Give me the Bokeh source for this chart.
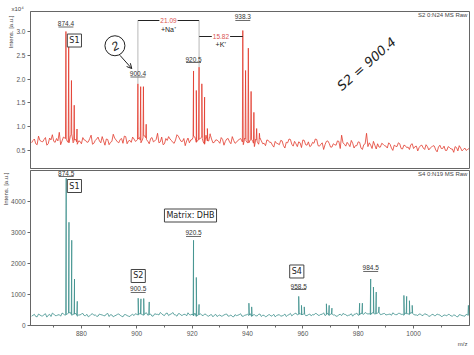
import numpy as np
from bokeh.plotting import figure
from bokeh.layouts import column
from bokeh.models import Label, Range1d, FixedTicker, PrintfTickFormatter, Arrow, OpenHead, Title
from bokeh.embed import file_html
from bokeh.resources import INLINE

# ---------------- data ----------------
mz_start = 862  # noise sampled every 0.5 m/z from here (integer list + half-step list)

# top spectrum baseline noise (x1e-2 of 10^4 a.u.), at 862, 863, ...
top_noise = [66, 74, 62, 71, 68, 77, 64, 72, 69, 75,
             88, 70, 76, 68, 80, 66, 73, 70, 64, 72,
             67, 75, 63, 71, 78, 66, 70, 74, 62, 69,
             76, 68, 73, 65, 79, 70, 67, 74, 71, 77,
             72, 80, 69, 75, 68, 73, 66, 78, 64, 71,
             74, 67, 72, 80, 69, 75, 70, 66, 73, 78,
             71, 76, 68, 82, 70, 74, 67, 72, 65, 73,
             69, 75, 64, 71, 67, 73, 70, 76, 66, 72,
             68, 74, 63, 70, 65, 72, 67, 61, 69, 64,
             71, 60, 67, 74, 63, 69, 58, 66, 72, 62,
             68, 60, 65, 73, 59, 66, 62, 70, 57, 64,
             61, 69, 82, 63, 67, 58, 65, 60, 68, 55,
             62, 86, 66, 54, 61, 64, 57, 63, 59, 66,
             55, 61, 58, 64, 53, 60, 57, 62, 54, 59,
             56, 61, 52, 58, 55, 60, 51, 57, 54, 59,
             50, 56, 53, 58, 49, 55, 52, 50, 54]
# top noise at 862.5, 863.5, ...
top_noise_mid = [71, 64, 80, 69, 73, 61, 76, 83, 67, 70,
                 62, 78, 74, 66, 85, 72, 63, 69, 77, 71,
                 68, 82, 65, 74, 70, 79, 61, 73, 67, 84,
                 72, 66, 75, 80, 64, 71, 78, 69, 74,
                 66, 81, 73, 64, 77, 70, 86, 68, 62, 75,
                 79, 71, 65, 83, 74, 69, 60, 76, 72, 80,
                 67, 73, 78, 63, 70, 84, 66, 72, 69, 77,
                 61, 74, 68, 79, 65, 71, 75, 62, 70, 66,
                 73, 58, 69, 76, 64, 60, 71, 67, 57, 65,
                 62, 70, 55, 66, 73, 59, 64, 68, 56, 71,
                 61, 58, 67, 74, 60, 63, 52, 69, 65, 57,
                 62, 70, 54, 66, 59, 63, 71, 55, 60, 67,
                 52, 64, 58, 61, 69, 53, 57, 65, 60, 55,
                 63, 50, 59, 66, 54, 61, 56, 52, 64, 58,
                 49, 60, 55, 62, 51, 57, 59, 47, 61, 54,
                 50, 58, 53, 46, 56, 60, 49, 55, 52]

# bottom spectrum baseline noise (a.u.), at 862, 863, ...
bot_noise = [300, 360, 280, 340, 310, 380, 330, 290, 370, 320,
             350, 400, 330, 380, 420, 360, 390, 340, 370, 320,
             360, 310, 380, 340, 300, 350, 320, 370, 290, 340,
             310, 360, 330, 280, 350, 300, 340, 320, 360, 380,
             350, 390, 330, 370, 310, 360, 340, 380, 320, 400,
             360, 420, 340, 380, 330, 360, 310, 350, 370, 400,
             340, 380, 320, 360, 300, 350, 330, 290, 340, 310,
             360, 300, 340, 280, 320, 350, 300, 330, 360, 380,
             340, 310, 360, 290, 330, 300, 350, 320, 280, 340,
             300, 330, 290, 350, 310, 380, 340, 390, 360, 320,
             350, 310, 340, 380, 330, 360, 320, 390, 370, 340,
             300, 350, 320, 360, 310, 340, 300, 370, 330, 400,
             360, 390, 380, 410, 370, 400, 350, 380, 340, 360,
             330, 370, 350, 390, 360, 400, 380, 420, 360, 340,
             370, 320, 380, 340, 300, 360, 320, 350, 290, 340,
             310, 350, 300, 330, 280, 340, 310, 360, 320]
# bottom noise at 862.5, 863.5, ...
bot_noise_mid = [330, 290, 370, 310, 350, 270, 360, 400, 320, 340,
                 300, 380, 350, 410, 330, 370, 300, 340, 390, 320,
                 280, 360, 330, 300, 370, 340, 310, 390, 350, 280,
                 330, 370, 300, 350, 320, 290, 360, 380, 340,
                 370, 330, 410, 350, 300, 380, 360, 420, 340, 390,
                 320, 370, 350, 300, 380, 330, 360, 410, 340, 310,
                 290, 350, 330, 370, 310, 340, 280, 360, 320, 300,
                 340, 370, 310, 290, 350, 330, 380, 300, 340, 320,
                 290, 350, 310, 370, 330, 280, 340, 300, 360, 320,
                 350, 310, 370, 330, 390, 350, 400, 360, 340, 380,
                 320, 370, 350, 390, 330, 360, 410, 350, 320, 370,
                 340, 300, 360, 390, 350, 330, 380, 360, 400, 340,
                 380, 420, 370, 350, 400, 380, 430, 360, 390, 350,
                 370, 410, 350, 390, 360, 330, 380, 350, 400, 340,
                 320, 370, 330, 360, 300, 350, 320, 370, 340, 300,
                 330, 360, 310, 340, 290, 350, 320, 300, 340]

# top spectrum peaks (m/z, intensity x10^4)
top_peak_mz = [874.4, 875.4, 876.4, 877.4, 878.4,
               900.4, 901.4, 902.4, 903.4,
               920.5, 921.5, 922.5, 923.5, 924.5, 925.5, 926.5,
               938.3, 939.3, 940.3, 941.3, 942.3, 943.3, 944.3]
top_peak_int = [3.00, 2.70, 1.97, 1.45, 0.95,
                1.90, 1.84, 1.84, 1.05,
                2.17, 1.76, 2.25, 1.90, 1.62, 0.96, 0.85,
                3.02, 2.18, 2.65, 1.74, 1.30, 0.96, 0.86]

# bottom spectrum peaks (m/z, intensity a.u.)
bot_peak_mz = [874.5, 875.5, 876.5, 877.5, 878.5,
               900.5, 901.5, 902.5, 904.5,
               920.5, 921.5, 922.5,
               940.5, 941.5,
               958.5, 959.5, 960.5,
               968.5, 969.5, 970.5,
               980.5, 981.5,
               984.5, 985.5, 986.5, 987.5,
               996.5, 997.5, 998.5, 999.5,
               1019.8]
bot_peak_int = [4750, 3330, 2750, 1500, 780,
                880, 860, 870, 760,
                2750, 1550, 680,
                720, 600,
                940, 650, 600,
                700, 650, 560,
                720, 720,
                1500, 1240, 1080, 600,
                970, 940, 800, 650,
                650]

top_labels = ["874.4", "900.4", "920.5", "938.3"]
top_label_mz = [874.4, 900.4, 920.5, 938.3]
top_label_y = [3.094, 2.043, 2.348, 3.231]

bot_labels = ["874.5", "900.5", "920.5", "958.5", "984.5"]
bot_label_mz = [874.5, 900.5, 920.5, 958.5, 984.5]
bot_label_y = [4806, 1065, 2871, 1161, 1742]

x_ticks = [880, 900, 920, 940, 960, 980, 1000]
x_minor = [870, 890, 910, 930, 950, 970, 990, 1010]
top_y_ticks = [0.5, 1.0, 1.5, 2.0, 2.5, 3.0]
bot_y_ticks = [0, 1000, 2000, 3000, 4000]

X0, X1 = 861.6, 1020.2
FONT = "Liberation Sans"


def build(noise, noise_mid, pk_mz, pk_int, scale=1.0):
    bx = np.concatenate([np.arange(len(noise)) + mz_start, np.arange(len(noise_mid)) + mz_start + 0.5])
    by = np.concatenate([np.array(noise, float), np.array(noise_mid, float)]) * scale
    o = np.argsort(bx)
    bx, by = bx[o], by[o]
    xs = list(bx)
    ys = list(by)
    for m, v in zip(pk_mz, pk_int):
        for dx in (-0.16, 0.16):
            xs.append(m + dx)
            ys.append(float(np.interp(m + dx, bx, by)))
        xs.append(m)
        ys.append(v)
    order = np.argsort(xs)
    return np.array(xs)[order], np.array(ys)[order]


def style(p):
    p.toolbar_location = None
    p.xgrid.visible = False
    p.ygrid.visible = False
    p.outline_line_color = "#666666"
    p.outline_line_width = 1
    p.background_fill_color = "white"
    p.border_fill_color = "white"
    for ax in p.yaxis + p.xaxis:
        ax.axis_line_color = "#666666"
        ax.major_tick_line_color = "#666666"
        ax.minor_tick_line_color = "#666666"
        ax.major_tick_out = 3
        ax.major_tick_in = 0
        ax.minor_tick_out = 2
        ax.minor_tick_in = 0
        ax.major_label_text_font = FONT
        ax.major_label_text_font_size = "6.5px"
        ax.major_label_text_color = "#555555"
        ax.major_label_standoff = 2


def small(p, x, y, text, align="center", baseline="middle", color="#333333", size="6.5px", angle=0.0,
          style_="normal", font=FONT, **kw):
    p.add_layout(Label(x=x, y=y, text=text, text_align=align, text_baseline=baseline,
                       text_color=color, text_font_size=size, angle=angle,
                       text_font=font, text_font_style=style_, **kw))


def peak_labels(p, mzs, ys, texts):
    for m, yv, t in zip(mzs, ys, texts):
        p.segment(x0=[m - 2.7], y0=[yv], x1=[m + 2.7], y1=[yv], line_color="#444444", line_width=0.8)
        small(p, m, yv, t, baseline="bottom", y_offset=1)


def boxed(p, x, y, text, size="8px"):
    p.add_layout(Label(x=x, y=y, text=text, text_align="center", text_baseline="middle",
                       text_font="DejaVu Sans", text_font_size=size, text_color="#222222",
                       border_line_color="#444444", border_line_width=1,
                       background_fill_color="white", padding=2))


def side_title(p, text, place, align, offset):
    p.add_layout(Title(text=text, align=align, offset=offset, standoff=0,
                       text_font=FONT, text_font_size="6px", text_font_style="normal",
                       text_color="#444444"), place)


# ---------------- top panel ----------------
top = figure(width=474, height=169, x_range=Range1d(X0, X1), y_range=Range1d(0.12, 3.42),
             output_backend="svg", toolbar_location=None,
             min_border_left=29, min_border_right=5, min_border_top=11, min_border_bottom=1)
tx, ty = build(top_noise, top_noise_mid, top_peak_mz, top_peak_int, scale=0.01)
top.line(tx, ty, line_color="#e23a2c", line_width=0.8)
top.xaxis.visible = False
top.yaxis.ticker = FixedTicker(ticks=top_y_ticks)
top.yaxis.formatter = PrintfTickFormatter(format="%.1f")
style(top)
side_title(top, "Intens. [a.u.]", "left", "right", 4)
side_title(top, "x10\u2074", "above", "left", -19)

peak_labels(top, top_label_mz, top_label_y, top_labels)

# brackets for adducts (from picked peaks)
na_y, k_y = 3.231, 2.895
na_a, na_b, k_b = top_peak_mz[5], top_peak_mz[11], top_peak_mz[16]
top.segment(x0=[na_a, na_b], y0=[na_y, k_y], x1=[na_b, k_b], y1=[na_y, k_y], line_color="#222222", line_width=1.2)
top.segment(x0=[na_a, na_b], y0=[na_y, na_y], x1=[na_a, na_b], y1=[top_peak_int[5], top_peak_int[11]],
            line_color="#888888", line_width=0.6)
small(top, (na_a + na_b) / 2, na_y, "21.09", color="#d9534f", size="6.5px",
      background_fill_color="white", padding=1)
small(top, (na_a + na_b) / 2, 3.04, "+Na\u207a", color="#222222", size="7px")
small(top, (na_b + k_b) / 2, k_y, "15.82", color="#d9534f", size="6.5px",
      background_fill_color="white", padding=1)
small(top, (na_b + k_b) / 2, 2.716, "+K\u207a", color="#222222", size="7px")

boxed(top, 877.46, 2.81, "S1")

# handwritten notes
top.scatter(x=[892.1], y=[2.70], marker="circle", size=20, fill_color=None, line_color="#222222", line_width=1)
small(top, 892.1, 2.70, "2", size="12px", color="#222222", angle=0.5, style_="italic")
top.add_layout(Arrow(end=OpenHead(size=5, line_color="#222222", line_width=1),
                     x_start=893.9, y_start=2.50, x_end=898.2, y_end=2.22,
                     line_color="#222222", line_width=1))
small(top, 983.0, 2.32, "S2 = 900.4", size="13px", color="#222222", angle=0.72, style_="italic",
      font="DejaVu Sans")

small(top, 1019.44, 3.336, "S2 0:N24 MS Raw", align="right", size="6px", color="#444444")

# ---------------- bottom panel ----------------
bot = figure(width=474, height=186, x_range=top.x_range, y_range=Range1d(0, 5000),
             output_backend="svg", toolbar_location=None,
             min_border_left=29, min_border_right=5, min_border_top=1, min_border_bottom=30)
bx, by = build(bot_noise, bot_noise_mid, bot_peak_mz, bot_peak_int)
bot.line(bx, by, line_color="#3c8f8b", line_width=0.8)
bot.xaxis.ticker = FixedTicker(ticks=x_ticks, minor_ticks=x_minor)
bot.yaxis.ticker = FixedTicker(ticks=bot_y_ticks)
style(bot)
side_title(bot, "Intens. [a.u.]", "left", "right", 2)
side_title(bot, "m/z", "below", "right", 2)

peak_labels(bot, bot_label_mz, bot_label_y, bot_labels)
boxed(bot, 877.46, 4500, "S1")
boxed(bot, 900.52, 1597, "S2")
boxed(bot, 919.4, 3548, "Matrix: DHB")
boxed(bot, 957.8, 1742, "S4")

small(bot, 1019.44, 4871, "S4 0:N19 MS Raw", align="right", size="6px", color="#444444")

layout = column(top, bot, spacing=0)
open("out.html", "w").write(file_html(layout, INLINE))
